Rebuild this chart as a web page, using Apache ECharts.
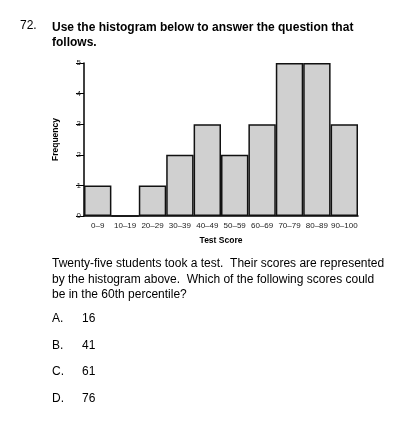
<!DOCTYPE html><html><head><meta charset="utf-8">
<script src="https://cdn.jsdelivr.net/npm/echarts@6/dist/echarts.min.js"></script>
<style>html,body{margin:0;background:#fff}#c{width:415px;height:421px}</style></head><body><div id="c"></div>
<script>
const categories=['0–9','10–19','20–29','30–39','40–49','50–59','60–69','70–79','80–89','90–100'];
const frequency=[1,0,1,2,3,2,3,5,5,3];
const yTicks=[0,1,2,3,4,5];
const bodyLines=['Twenty-five students took a test.  Their scores are represented','by the histogram above.  Which of the following scores could','be in the 60th percentile?'];
const options=[['A.','16'],['B.','41'],['C.','61'],['D.','76']];
const F='Liberation Sans, Arial, sans-serif';
const g=[
 {type:'text',left:20,top:20,style:{text:'72.',font:'12px '+F,fill:'#000'}},
 {type:'text',left:52,top:20,style:{text:'Use the histogram below to answer the question that\nfollows.',font:'bold 12px '+F,fill:'#000',lineHeight:15}}
];
bodyLines.forEach((t,i)=>g.push({type:'text',left:52,top:258+i*15.5,style:{text:t,font:'12px '+F,fill:'#000'}}));
options.forEach((o,i)=>{g.push({type:'text',left:52,top:313+i*26.5,style:{text:o[0],font:'12px '+F,fill:'#000'}});g.push({type:'text',left:82,top:313+i*26.5,style:{text:o[1],font:'12px '+F,fill:'#000'}});});
const ch=echarts.init(document.getElementById('c'));
ch.setOption({animation:false,graphic:g,
grid:{left:84,right:57,top:63,bottom:205},
xAxis:{type:'category',data:categories,axisLine:{lineStyle:{color:'#000',width:1.5}},axisTick:{show:false},
 axisLabel:{color:'#222',fontSize:8,fontFamily:F,margin:6,interval:0},name:'Test Score',nameLocation:'middle',nameGap:20,nameTextStyle:{fontWeight:'bold',fontSize:8.5,color:'#000',fontFamily:F}},
yAxis:{type:'value',min:0,max:5,interval:1,splitLine:{show:false},axisLine:{show:true,lineStyle:{color:'#000',width:1.5}},axisTick:{show:true,length:8,lineStyle:{color:'#000'}},
 axisLabel:{color:'#222',fontSize:8,fontFamily:F,margin:3,formatter:v=>yTicks.includes(v)?String(v):''},name:'Frequency',nameLocation:'middle',nameGap:24,nameRotate:90,nameTextStyle:{fontWeight:'bold',fontSize:8.5,color:'#000',fontFamily:F}},
series:[{type:'bar',data:frequency,barWidth:'100%',barGap:0,itemStyle:{color:'#d0d0d0',borderColor:'#111',borderWidth:1.5}}]
});
</script></body></html>
